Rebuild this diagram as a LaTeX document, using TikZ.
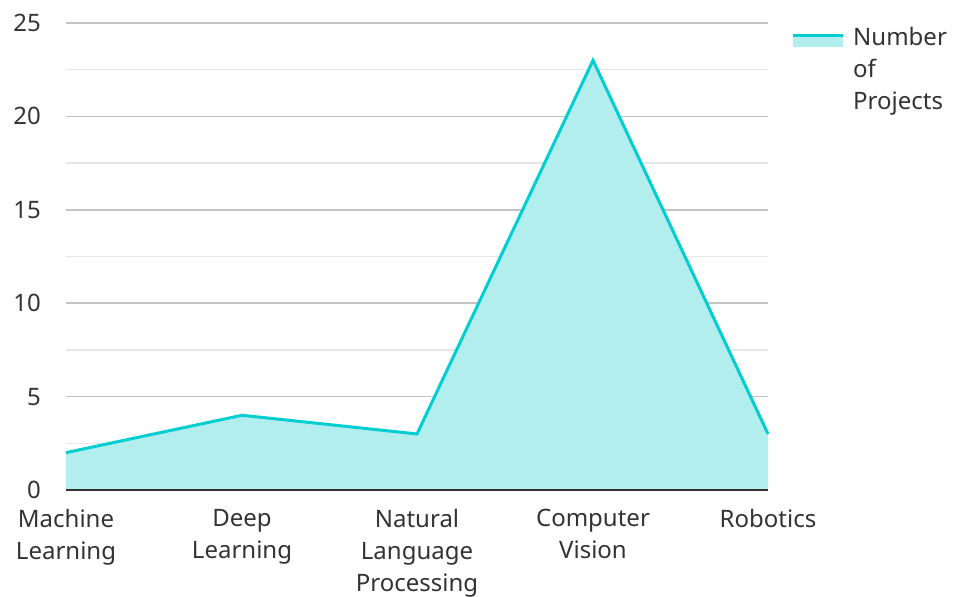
\documentclass[tikz,border=0pt]{standalone}
\usepackage{fontspec}
\setmainfont{Noto Sans}
\definecolor{lineC}{HTML}{00CED1}
\definecolor{fillC}{HTML}{B2EEEE}
\definecolor{txt}{HTML}{333333}
\definecolor{gmaj}{HTML}{C4C4C4}
\definecolor{gmin}{HTML}{E6E6E6}
\begin{document}
\begin{tikzpicture}[x=1pt,y=-1pt,
  lbl/.style={font=\fontsize{24}{32}\selectfont,text=txt,inner sep=0pt},
  ytick/.style={lbl,anchor=east},
  xtick/.style={lbl,anchor=north,align=center},
  major/.style={draw=gmaj,line width=1.5pt},
  minor/.style={draw=gmin,line width=1.5pt}]
\useasboundingbox (0,0) rectangle (954,597);
% grid
\foreach \v in {2.5,7.5,12.5,17.5,22.5}{\draw[minor] (66,{490-\v*18.68}) -- (768,{490-\v*18.68});}
\foreach \v in {5,10,15,20,25}{\draw[major] (66,{490-\v*18.68}) -- (768,{490-\v*18.68});}
% data coordinates
\coordinate (p1) at (66,{490-2*18.68});
\coordinate (p2) at (242,{490-4*18.68});
\coordinate (p3) at (417,{490-3*18.68});
\coordinate (p4) at (593,{490-23*18.68});
\coordinate (p5) at (768,{490-3*18.68});
\coordinate (b1) at (66,490);
\coordinate (b5) at (768,490);
\fill[fillC] (b1) -- (p1) -- (p2) -- (p3) -- (p4) -- (p5) -- (b5) -- cycle;
\draw[lineC,line width=3pt,line join=miter] (p1) -- (p2) -- (p3) -- (p4) -- (p5);
\draw[txt,line width=2pt] (b1) -- (b5);
% y labels
\foreach \v in {0,5,10,15,20,25}{\node[ytick] (y\v) at (41,{490-\v*18.68}) {\v};}
% x labels
\node[xtick] (x1) at (66,509) {Machine\\Learning};
\node[xtick] (x2) at (242,509) {Deep\\Learning};
\node[xtick] (x3) at (417,509) {Natural\\Language\\Processing};
\node[xtick] (x4) at (593,509) {Computer\\Vision};
\node[xtick] (x5) at (768,509) {Robotics};
% legend
\fill[fillC] (793,35) rectangle (843,47);
\draw[lineC,line width=3pt] (793,35) -- (843,35);
\node[lbl,anchor=north west,align=left] (leg) at (853,27) {Number\\of\\Projects};
\end{tikzpicture}
\end{document}
